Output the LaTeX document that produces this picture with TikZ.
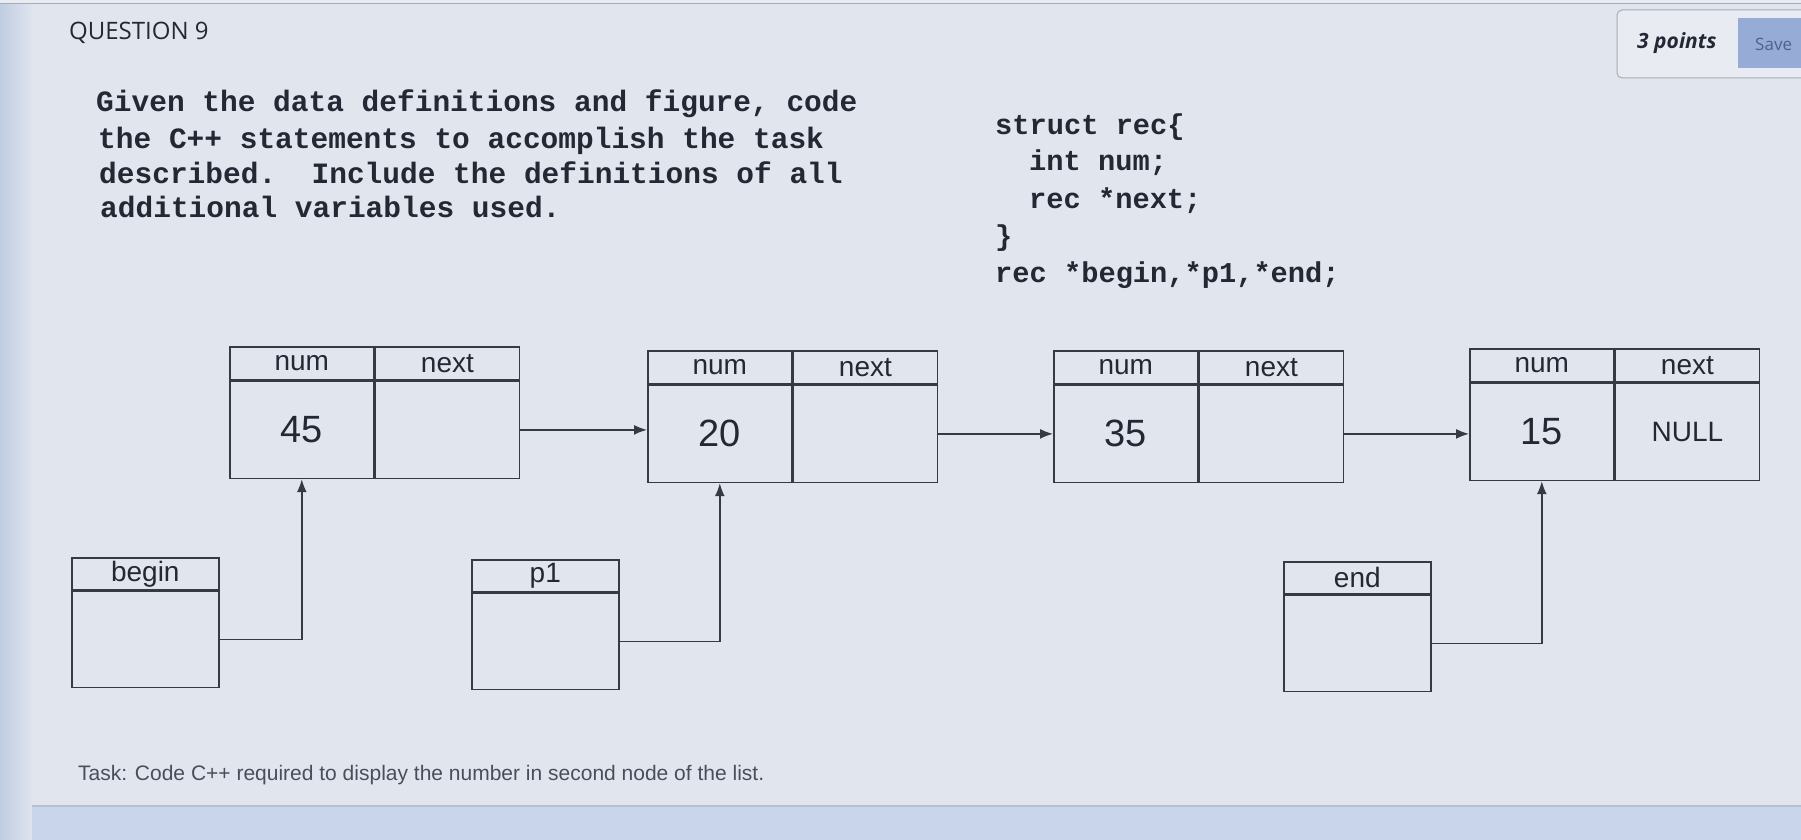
\documentclass[tikz,border=0pt]{standalone}
\usepackage{fontspec}
\setmainfont{Liberation Sans}
\newfontfamily\monofont{Liberation Mono}
\newfontfamily\opensans{Open Sans}
\usetikzlibrary{arrows.meta}
\definecolor{bg}{RGB}{225,230,238}
\definecolor{leftc}{RGB}{192,204,225}
\definecolor{ln}{RGB}{55,58,66}
\definecolor{tx}{RGB}{36,40,52}
\definecolor{tasktx}{RGB}{72,78,92}
\definecolor{barc}{RGB}{200,213,234}
\definecolor{barline}{RGB}{180,192,214}
\definecolor{boxc}{RGB}{232,236,242}
\definecolor{boxl}{RGB}{165,172,186}
\definecolor{savec}{RGB}{150,172,214}
\definecolor{savetx}{RGB}{78,98,145}
\tikzset{
  cellbase/.style={draw=ln, line width=1.6pt, rectangle, inner sep=0pt, anchor=north west, text=tx},
  hcell/.style={cellbase, minimum width=144pt, minimum height=33pt, font=\fontsize{28}{30}\selectfont},
  vcell/.style={cellbase, minimum width=144pt, minimum height=97pt, font=\fontsize{38}{40}\selectfont},
  phcell/.style={cellbase, minimum width=147pt, minimum height=32pt, font=\fontsize{28}{30}\selectfont},
  pvcell/.style={cellbase, minimum width=147pt, minimum height=96pt},
  arr/.style={draw=ln, line width=1.5pt, -{Latex[length=13pt,width=10pt]}},
  para/.style={anchor=base west, inner sep=0pt, text=tx, font=\monofont\bfseries\fontsize{29.5}{35}\selectfont},
  code/.style={anchor=base west, inner sep=0pt, text=tx, font=\monofont\bfseries\fontsize{28.7}{35}\selectfont},
}
\newcommand{\listnode}[5]{%
  \node[hcell] (#1h1) at (#2,#3) {num};
  \node[hcell] (#1h2) at (#1h1.north east) {next};
  \node[vcell] (#1v1) at (#1h1.south west) {#4};
  \node[vcell] (#1v2) at (#1h1.south east) {#5};
}
\newcommand{\ptrbox}[4]{%
  \node[phcell] (#1h) at (#2,#3) {#4};
  \node[pvcell] (#1v) at (#1h.south west) {};
}
\begin{document}
\begin{tikzpicture}[x=1pt,y=-1pt]
\useasboundingbox (0,0) rectangle (1801,840);
\clip (0,0) rectangle (1801,840);
% background
\fill[bg] (0,0) rectangle (1801,840);
\shade[left color=leftc, right color=bg] (0,0) rectangle (34,840);
\fill[boxc] (0,0) rectangle (1801,4);
\draw[boxl, line width=1pt] (0,4) -- (1801,4);
\fill[barc] (32,806) rectangle (1801,840);
\draw[barline, line width=1.5pt] (32,806) -- (1801,806);
% points box
\draw[boxl, fill=boxc, line width=1pt, rounded corners=5pt] (1617,10) rectangle (1840,78);
\fill[savec] (1738,18) rectangle (1801,68);
\node[anchor=base west, inner sep=0pt, text=tx, font=\opensans\bfseries\itshape\fontsize{21}{24}\selectfont] (points) at (1637,49) {3 points};
\node[anchor=base west, inner sep=0pt, text=savetx, font=\opensans\fontsize{17}{20}\selectfont] (save) at (1755,51) {Save};
% title
\node[anchor=base west, inner sep=0pt, text=tx, font=\opensans\fontsize{24}{28}\selectfont] (title) at (69,40) {QUESTION 9};
% paragraph
\node[para] (para1) at (96,112) {Given the data definitions and figure, code};
\node[para] (para2) at (98,148) {the C++ statements to accomplish the task};
\node[para] (para3) at (99,183) {described.\ \ Include the definitions of all};
\node[para] (para4) at (100,217) {additional variables used.};
% code
\node[code] (code1) at (995,135) {struct rec\{};
\node[code] (code2) at (1029,171) {int num;};
\node[code] (code3) at (1029,208) {rec *next;};
\node[code] (code4) at (995,245) {\}};
\node[code] (code5) at (995,282) {rec *begin,*p1,*end;};
% list nodes
\listnode{na}{229}{346}{45}{}
\listnode{nb}{647}{350}{20}{}
\listnode{nc}{1053}{350}{35}{}
\listnode{nd}{1469}{348}{15}{\fontsize{28}{30}\selectfont NULL}
% pointer boxes
\ptrbox{pbegin}{71}{557}{begin}
\ptrbox{pone}{471}{559}{p1}
\ptrbox{pend}{1283}{561}{end}
% connectors
\draw[arr] (nav2.east) -- (nav2.east -| nbv1.west);
\draw[arr] (nbv2.east) -- (nbv2.east -| ncv1.west);
\draw[arr] (ncv2.east) -- (ncv2.east -| ndv1.west);
\draw[arr] (pbeginv.east) -| (nav1.south);
\draw[arr] (ponev.east) -| (nbv1.south);
\draw[arr] (pendv.east) -| (ndv1.south);
% task
\node[anchor=base west, inner sep=0pt, text=tasktx, font=\fontsize{21}{24}\selectfont] (task) at (78,780) {Task: Code C++ required to display the number in second node of the list.};
\end{tikzpicture}
\end{document}
